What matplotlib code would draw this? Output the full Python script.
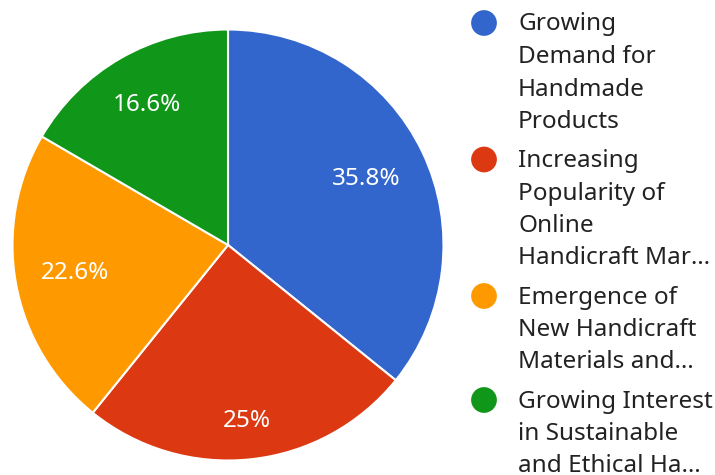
import matplotlib
matplotlib.use("Agg")
import matplotlib.pyplot as plt
import numpy as np

# slice data
labels = [
    ["Growing", "Demand for", "Handmade", "Products"],
    ["Increasing", "Popularity of", "Online", "Handicraft Mar…"],
    ["Emergence of", "New Handicraft", "Materials and…"],
    ["Growing Interest", "in Sustainable", "and Ethical Ha…"],
]
shares = [35.8, 25, 22.6, 16.6]
colors = ["#3366CC", "#DC3912", "#FF9900", "#109618"]

# how far out each percentage label sits (fraction of radius)
label_dist = [0.71, 0.82, 0.72, 0.75]

plt.rcParams['font.family'] = ['Noto Sans', 'DejaVu Sans']

W, H = 715, 475
fig = plt.figure(figsize=(W / 100, H / 100), dpi=100)

# pie axes: centre (228, 245) px, radius ~215.5 px
cx, cy, r = 228, 245, 215.5
ax = fig.add_axes([(cx - r) / W, (H - cy - r) / H, 2 * r / W, 2 * r / H])
wedges, _ = ax.pie(shares, colors=colors, startangle=90, counterclock=False,
                   radius=1, wedgeprops=dict(edgecolor="white", linewidth=1.5))
ax.set_xlim(-1, 1)
ax.set_ylim(-1, 1)
ax.set_aspect("equal")
ax.axis("off")

for w, v, d in zip(wedges, shares, label_dist):
    mid = np.deg2rad((w.theta1 + w.theta2) / 2)
    ax.text(d * np.cos(mid), d * np.sin(mid), f"{v:g}%", color="white",
            fontsize=17.5, ha="center", va="center")

# legend drawn by hand in pixel coordinates
lax = fig.add_axes([0, 0, 1, 1])
lax.set_xlim(0, W)
lax.set_ylim(H, 0)
lax.axis("off")

line_h = 32.5
gap = 6.5
y = 23
for lines, c in zip(labels, colors):
    lax.scatter([484], [y], s=25 ** 2 * 0.55, color=c, edgecolors="none")
    for i, t in enumerate(lines):
        lax.text(518, y + 1.5 + i * line_h, t, fontsize=17.5, color="#222222",
                 ha="left", va="center")
    y += len(lines) * line_h + gap

fig.savefig("out.png", dpi=100)
